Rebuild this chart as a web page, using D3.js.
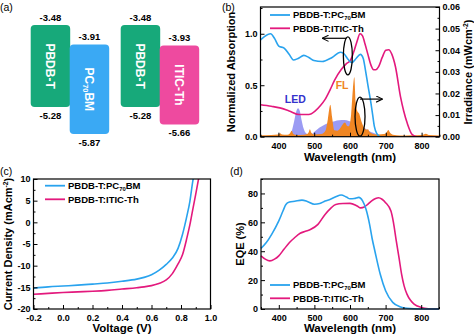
<!DOCTYPE html>
<html>
<head>
<meta charset="utf-8">
<script src="https://cdn.jsdelivr.net/npm/d3@7"></script>
<style>
  body { margin: 0; background: #fff; }
  svg { display: block; font-family: "Liberation Sans", Arial, sans-serif; }
  .tick text { font-weight: bold; font-size: 9px; fill: #000; }
  .tick line { stroke: #000; stroke-width: 1; }
</style>
</head>
<body>
<svg id="fig" width="474" height="335"></svg>
<script>
// ---- (a) energy levels, eV ----
const materials = ["PBDB-T", "PC70BM", "PBDB-T", "ITIC-Th"];
const lumo = [-3.48, -3.91, -3.48, -3.93];
const homo = [-5.28, -5.87, -5.28, -5.66];

// ---- (b) absorption (normalized) and lamp irradiance (mW cm^-2) ----
const absWlPc = [350, 360, 378, 390, 401, 416, 430, 442, 455, 471, 485, 499, 522, 550, 573, 582, 595, 605, 617, 629, 637, 643, 650, 657, 663, 668, 675, 685, 700];
const absPc = [0.94, 0.97, 1.0, 0.95, 0.88, 0.86, 0.80, 0.745, 0.76, 0.79, 0.77, 0.74, 0.73, 0.77, 0.82, 0.81, 0.75, 0.72, 0.76, 0.80, 0.76, 0.65, 0.50, 0.36, 0.22, 0.10, 0.03, 0.0, 0.0];
const absWlItic = [350, 380, 404, 430, 458, 485, 503, 517, 530, 545, 557, 575, 590, 601, 612, 620, 628, 635, 642, 650, 658, 666, 672, 680, 690, 700, 708, 717, 727, 741, 750, 760, 774, 788, 850];
const absItic = [0.31, 0.295, 0.28, 0.25, 0.215, 0.215, 0.25, 0.30, 0.36, 0.46, 0.55, 0.65, 0.71, 0.74, 0.84, 0.93, 1.0, 0.98, 0.90, 0.80, 0.70, 0.65, 0.65, 0.68, 0.77, 0.84, 0.845, 0.80, 0.68, 0.39, 0.25, 0.13, 0.02, 0.0, 0.0];

const ledWl = [350, 400, 420, 430, 438, 445, 450, 455, 460, 465, 470, 478, 490, 503, 515, 530, 545, 557, 570, 584, 597, 610, 624, 638, 652, 665, 678, 690, 710, 760, 800, 850];
const ledIrr = [0, 0, 0.0002, 0.0008, 0.003, 0.008, 0.0118, 0.0132, 0.0118, 0.0075, 0.004, 0.0015, 0.0009, 0.0026, 0.0042, 0.0057, 0.0066, 0.0072, 0.0076, 0.0077, 0.0073, 0.0065, 0.0053, 0.0042, 0.0028, 0.0018, 0.001, 0.0006, 0.0003, 0.0001, 0.0002, 0];

const flWl = [350, 380, 400, 405, 410, 425, 432, 437, 442, 450, 470, 480, 485, 488, 492, 500, 520, 532, 538, 545, 550, 556, 565, 575, 580, 586, 592, 597, 603, 608, 612, 616, 620, 626, 632, 640, 646, 650, 655, 665, 680, 695, 702, 707, 712, 720, 740, 770, 800, 812, 820, 850];
const flIrr = [0.0007, 0.0008, 0.001, 0.0016, 0.001, 0.0009, 0.0015, 0.0028, 0.0012, 0.0008, 0.0009, 0.0012, 0.0022, 0.0034, 0.0018, 0.001, 0.0012, 0.003, 0.008, 0.0148, 0.009, 0.003, 0.0028, 0.0045, 0.0058, 0.0066, 0.005, 0.0048, 0.01, 0.022, 0.0275, 0.016, 0.012, 0.0105, 0.007, 0.004, 0.0032, 0.0035, 0.0022, 0.0013, 0.001, 0.0012, 0.002, 0.0031, 0.0018, 0.0009, 0.0006, 0.0007, 0.0008, 0.0014, 0.0008, 0.0006];

// ---- (c) J-V curves ----
const voltage = [-0.2, -0.1, 0, 0.1, 0.2, 0.3, 0.4, 0.5, 0.55, 0.6, 0.65, 0.7, 0.74, 0.78, 0.81, 0.84, 0.86, 0.88, 0.9, 0.92];
const jPc = [-15.2, -14.9, -14.7, -14.5, -14.25, -14.0, -13.6, -13.1, -12.7, -12.1, -11.1, -9.7, -8.3, -6.0, -2.8, 1.5, 4.8, 9.5, 13, 17];
const jItic = [-16.6, -16.4, -16.2, -16.05, -15.9, -15.7, -15.4, -15.1, -14.9, -14.6, -14.1, -13.3, -11.9, -9.6, -7.5, -3.6, -0.6, 3.0, 6.5, 10.2];

// ---- (d) EQE, % ----
const eqeWlPc = [350, 365, 380, 400, 412, 420, 430, 445, 465, 480, 500, 515, 530, 545, 560, 575, 590, 600, 612, 625, 635, 645, 655, 662, 670, 685, 700, 720, 740, 760, 800, 850];
const eqePc = [42, 46, 51.7, 61, 68, 72.4, 74, 74.6, 75.4, 74.5, 72.5, 73, 74.7, 76, 77.7, 78.9, 77.5, 76.3, 76.5, 77.3, 75, 69, 58.6, 49, 40, 24, 12.6, 4.6, 1.6, 0.5, 0, 0];
const eqeWlItic = [350, 362, 375, 388, 400, 415, 430, 445, 460, 475, 490, 510, 530, 545, 560, 580, 600, 620, 630, 640, 650, 660, 672, 680, 690, 700, 715, 722, 730, 738, 745, 752, 760, 770, 780, 800, 820, 850];
const eqeItic = [36.8, 34.5, 33.3, 34.5, 36.8, 41.5, 46, 49.5, 52.4, 53.8, 55.2, 58.6, 65.5, 69.5, 72.4, 73, 73.1, 71.3, 70, 70.6, 72.5, 74.7, 76.5, 77, 76, 73.6, 67.8, 60, 47.1, 35, 24, 16, 10.3, 6, 3.4, 1.1, 0.2, 0];

const blue = "#29a3ee", pink = "#e3197d";
const boxColor = { "PBDB-T": "#17a97a", "PC70BM": "#3aa9f4", "ITIC-Th": "#ee4a9f" };

const svg = d3.select("#fig");

// text with optional sub/superscript pieces: [[str, "sub"|"sup"|null], ...]
function rich(sel, parts, size) {
  parts.forEach(([s, kind]) => {
    const t = sel.append("tspan").text(s);
    if (kind) t.attr("font-size", size * 0.62).attr("baseline-shift", kind === "sub" ? "-30%" : "55%");
  });
  return sel;
}
function partsFor(name) {
  return name === "PC70BM" ? [["PC"], ["70", "sub"], ["BM"]] : [[name]];
}

// panel letters
[["(a)", 0, 10.5], ["(b)", 222, 10.5], ["(c)", 0, 175], ["(d)", 230, 175]].forEach(([s, x, y]) =>
  svg.append("text").attr("x", x).attr("y", y).attr("font-size", 10.5).text(s));

// ================= (a) =================
const yE = d3.scaleLinear().domain([-3.48, -5.87]).range([25, 134]);
const boxW = 39.5;
const boxX = i => 30.7 + Math.floor(i / 2) * 90 + (i % 2) * 39;
const ga = svg.append("g");
materials.forEach((m, i) => {
  const x0 = boxX(i), y0 = yE(lumo[i]), y1 = yE(homo[i]);
  ga.append("rect").attr("x", x0).attr("y", y0).attr("width", boxW).attr("height", y1 - y0)
    .attr("rx", 4).attr("fill", boxColor[m]);
  const cx = x0 + boxW / 2, cy = (y0 + y1) / 2;
  rich(ga.append("text")
    .attr("transform", `translate(${cx},${cy}) rotate(90)`)
    .attr("text-anchor", "middle").attr("dy", "0.35em")
    .attr("fill", "#fff").attr("font-weight", "bold").attr("font-size", 12), partsFor(m), 12);
  ga.append("text").attr("x", cx).attr("y", y0 - 4.5).attr("text-anchor", "middle")
    .attr("font-weight", "bold").attr("font-size", 9.5).text(lumo[i].toFixed(2));
  ga.append("text").attr("x", cx).attr("y", y1 + 12).attr("text-anchor", "middle")
    .attr("font-weight", "bold").attr("font-size", 9.5).text(homo[i].toFixed(2));
});

// ================= shared axis helpers =================
function bottomAxis(g, x, yPos, major, minor, fmt) {
  g.append("g").attr("transform", `translate(0,${yPos})`)
    .call(d3.axisBottom(x).tickValues(major).tickSize(-4).tickSizeOuter(0).tickPadding(6).tickFormat(fmt))
    .call(a => a.select(".domain").remove());
  g.append("g").attr("transform", `translate(0,${yPos})`)
    .call(d3.axisBottom(x).tickValues(minor).tickSize(-2).tickFormat(""))
    .call(a => a.select(".domain").remove());
}
function sideAxis(g, axisFn, y, xPos, major, minor, fmt) {
  g.append("g").attr("transform", `translate(${xPos},0)`)
    .call(axisFn(y).tickValues(major).tickSize(-4).tickSizeOuter(0).tickPadding(3).tickFormat(fmt))
    .call(a => a.select(".domain").remove());
  g.append("g").attr("transform", `translate(${xPos},0)`)
    .call(axisFn(y).tickValues(minor).tickSize(-2).tickFormat(""))
    .call(a => a.select(".domain").remove());
}
function frame(g, b) {
  g.append("rect").attr("x", b.l).attr("y", b.t).attr("width", b.r - b.l).attr("height", b.b - b.t)
    .attr("fill", "none").attr("stroke", "#000").attr("stroke-width", 1.2);
}
function axisTitle(g, x, y, rot, parts, size) {
  rich(g.append("text").attr("transform", `translate(${x},${y}) rotate(${rot})`)
    .attr("text-anchor", "middle").attr("font-weight", "bold").attr("font-size", size), parts, size);
}
function legend(g, x, y0, dy, items) {
  items.forEach(([color, parts], i) => {
    const y = y0 + i * dy;
    g.append("line").attr("x1", x).attr("x2", x + 20).attr("y1", y).attr("y2", y)
      .attr("stroke", color).attr("stroke-width", 1.8);
    rich(g.append("text").attr("x", x + 23).attr("y", y).attr("dy", "0.35em")
      .attr("font-weight", "bold").attr("font-size", 9.5), parts, 9.5);
  });
}
const legendItems = [
  [blue, [["PBDB-T:PC"], ["70", "sub"], ["BM"]]],
  [pink, [["PBDB-T:ITIC-Th"]]]
];
const wlMajor = [400, 500, 600, 700, 800], wlMinor = [350, 450, 550, 650, 750, 850];

// ================= (b) =================
const pb = { l: 260.5, r: 439.5, t: 7, b: 136.7 };
const gb = svg.append("g");
const xb = d3.scaleLinear().domain([350, 850]).range([pb.l, pb.r]);
const yAbs = d3.scaleLinear().domain([0, 1.26]).range([pb.b, pb.t]);
const yIrr = d3.scaleLinear().domain([0, 0.06]).range([pb.b, pb.t]);

gb.append("clipPath").attr("id", "clipB").append("rect")
  .attr("x", pb.l).attr("y", pb.t).attr("width", pb.r - pb.l).attr("height", pb.b - pb.t);
const plotB = gb.append("g").attr("clip-path", "url(#clipB)");

const areaIrr = d3.area().x(d => xb(d[0])).y0(yIrr(0)).y1(d => yIrr(d[1])).curve(d3.curveMonotoneX);
plotB.append("path").datum(d3.zip(ledWl, ledIrr)).attr("d", areaIrr)
  .attr("fill", "#7474ee").attr("fill-opacity", 0.72);
plotB.append("path").datum(d3.zip(flWl, flIrr)).attr("d", areaIrr)
  .attr("fill", "#f08623");

const lineAbs = d3.line().x(d => xb(d[0])).y(d => yAbs(d[1])).curve(d3.curveMonotoneX);
plotB.append("path").datum(d3.zip(absWlItic, absItic)).attr("d", lineAbs)
  .attr("fill", "none").attr("stroke", pink).attr("stroke-width", 1.6);
plotB.append("path").datum(d3.zip(absWlPc, absPc)).attr("d", lineAbs)
  .attr("fill", "none").attr("stroke", blue).attr("stroke-width", 1.6);

// ellipses with arrows pointing to the relevant axis
gb.append("defs").append("marker").attr("id", "arrow").attr("viewBox", "0 0 8 8")
  .attr("refX", 7).attr("refY", 4).attr("markerWidth", 7).attr("markerHeight", 7)
  .attr("markerUnits", "userSpaceOnUse").attr("orient", "auto")
  .append("path").attr("d", "M0,0.5 L7.5,4 L0,7.5").attr("fill", "none").attr("stroke", "#000").attr("stroke-width", 1.2);
gb.append("ellipse").attr("cx", xb(594)).attr("cy", yAbs(0.786)).attr("rx", 4.5).attr("ry", 19)
  .attr("fill", "none").attr("stroke", "#000").attr("stroke-width", 1.3);
gb.append("line").attr("x1", xb(590)).attr("x2", xb(523)).attr("y1", yAbs(0.956)).attr("y2", yAbs(0.956))
  .attr("stroke", "#000").attr("stroke-width", 1.2).attr("marker-end", "url(#arrow)");
gb.append("ellipse").attr("cx", xb(628)).attr("cy", yIrr(0.0093)).attr("rx", 5).attr("ry", 19.5)
  .attr("fill", "none").attr("stroke", "#000").attr("stroke-width", 1.3);
gb.append("line").attr("x1", xb(628)).attr("x2", xb(690)).attr("y1", yIrr(0.0174)).attr("y2", yIrr(0.0174))
  .attr("stroke", "#000").attr("stroke-width", 1.2).attr("marker-end", "url(#arrow)");

gb.append("text").attr("x", xb(447)).attr("y", yIrr(0.0173)).attr("dy", "0.35em").attr("text-anchor", "middle")
  .attr("font-weight", "bold").attr("font-size", 10.5).attr("fill", "#3333cc").text("LED");
gb.append("text").attr("x", xb(578)).attr("y", yIrr(0.0239)).attr("dy", "0.35em").attr("text-anchor", "middle")
  .attr("font-weight", "bold").attr("font-size", 10.5).attr("fill", "#f08623").text("FL");

frame(gb, pb);
bottomAxis(gb, xb, pb.b, wlMajor, wlMinor, d3.format("d"));
sideAxis(gb, d3.axisLeft, yAbs, pb.l, [0, 0.5, 1.0], [0.25, 0.75, 1.25], d => d.toFixed(1));
sideAxis(gb, d3.axisRight, yIrr, pb.r, [0, 0.01, 0.02, 0.03, 0.04, 0.05, 0.06], [0.005, 0.015, 0.025, 0.035, 0.045, 0.055], d => d.toFixed(2));
legend(gb, 270, 15, 13.3, legendItems);
axisTitle(gb, 350, 161, 0, [["Wavelength (nm)"]], 11.5);
axisTitle(gb, 235, 72, -90, [["Normalized Absorption"]], 11);
axisTitle(gb, 472, 72, -90, [["Irradiance (mWcm"], ["-2", "sup"], [")"]], 11);

// ================= (c) =================
const pc = { l: 33.5, r: 210.5, t: 179, b: 309 };
const gc = svg.append("g");
const xc = d3.scaleLinear().domain([-0.2, 1.0]).range([pc.l, pc.r]);
const yc = d3.scaleLinear().domain([-20, 10]).range([pc.b, pc.t]);
gc.append("clipPath").attr("id", "clipC").append("rect")
  .attr("x", pc.l).attr("y", pc.t).attr("width", pc.r - pc.l).attr("height", pc.b - pc.t);
const plotC = gc.append("g").attr("clip-path", "url(#clipC)");
const lineJV = d3.line().x(d => xc(d[0])).y(d => yc(d[1])).curve(d3.curveMonotoneX);
plotC.append("path").datum(d3.zip(voltage, jItic)).attr("d", lineJV)
  .attr("fill", "none").attr("stroke", pink).attr("stroke-width", 1.6);
plotC.append("path").datum(d3.zip(voltage, jPc)).attr("d", lineJV)
  .attr("fill", "none").attr("stroke", blue).attr("stroke-width", 1.6);
frame(gc, pc);
bottomAxis(gc, xc, pc.b, [-0.2, 0, 0.2, 0.4, 0.6, 0.8, 1.0], [-0.1, 0.1, 0.3, 0.5, 0.7, 0.9], d => d.toFixed(1));
sideAxis(gc, d3.axisLeft, yc, pc.l, [-20, -15, -10, -5, 0, 5, 10], [-17.5, -12.5, -7.5, -2.5, 2.5, 7.5], d => String(d));
legend(gc, 45, 185.7, 13.6, legendItems);
axisTitle(gc, 122, 332, 0, [["Voltage (V)"]], 11.5);
axisTitle(gc, 11.5, 244, -90, [["Current Density (mAcm"], ["-2", "sup"], [")"]], 11);

// ================= (d) =================
const pd = { l: 261, r: 439, t: 179, b: 309 };
const gd = svg.append("g");
const xd = d3.scaleLinear().domain([350, 850]).range([pd.l, pd.r]);
const yd = d3.scaleLinear().domain([0, 90]).range([pd.b, pd.t]);
const lineEqe = d3.line().x(d => xd(d[0])).y(d => yd(d[1])).curve(d3.curveMonotoneX);
gd.append("path").datum(d3.zip(eqeWlItic, eqeItic)).attr("d", lineEqe)
  .attr("fill", "none").attr("stroke", pink).attr("stroke-width", 1.6);
gd.append("path").datum(d3.zip(eqeWlPc, eqePc)).attr("d", lineEqe)
  .attr("fill", "none").attr("stroke", blue).attr("stroke-width", 1.6);
frame(gd, pd);
bottomAxis(gd, xd, pd.b, wlMajor, wlMinor, d3.format("d"));
sideAxis(gd, d3.axisLeft, yd, pd.l, [0, 20, 40, 60, 80], [10, 30, 50, 70, 90], d => String(d));
legend(gd, 270, 285, 13.3, legendItems);
axisTitle(gd, 350, 332, 0, [["Wavelength (nm)"]], 11.5);
axisTitle(gd, 244, 244, -90, [["EQE (%)"]], 11);
</script>
</body>
</html>
